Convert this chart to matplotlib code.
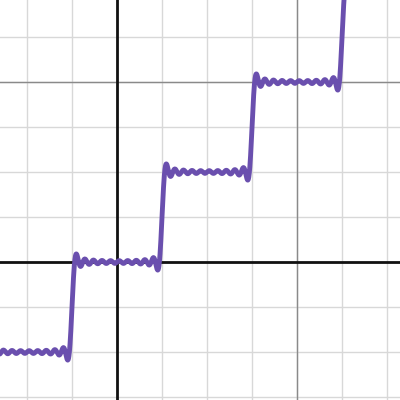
import numpy as np
import matplotlib
matplotlib.use("Agg")
import matplotlib.pyplot as plt

# view window (graph units)
x_min, x_max = -1.3, 3.144
y_min, y_max = -1.533, 2.911
n_terms = 10  # fourier terms of round(x)

x = np.linspace(x_min, x_max, 4000)
y = x.copy()
for n in range(1, n_terms + 1):
    y -= (-1) ** (n + 1) * np.sin(2 * np.pi * n * x) / (np.pi * n)

fig = plt.figure(figsize=(4, 4), dpi=100)
ax = fig.add_axes([0, 0, 1, 1])
ax.set_xlim(x_min, x_max)
ax.set_ylim(y_min, y_max)

for v in np.arange(-1.5, 3.5, 0.5):
    ax.axvline(v, color="#d8d8d8", lw=1, zorder=0)
    ax.axhline(v, color="#d8d8d8", lw=1, zorder=0)
for v in [-2, 2]:
    ax.axvline(v, color="#8a8a8a", lw=1, zorder=0)
    ax.axhline(v, color="#8a8a8a", lw=1, zorder=0)
ax.axvline(0, color="#111111", lw=2, zorder=1)
ax.axhline(0, color="#111111", lw=2, zorder=1)

ax.plot(x, y, color="#6a4fae", lw=3.5, zorder=2, solid_capstyle="round")

ax.set_xticks([])
ax.set_yticks([])
for s in ax.spines.values():
    s.set_visible(False)
fig.savefig("out.png", dpi=100)
